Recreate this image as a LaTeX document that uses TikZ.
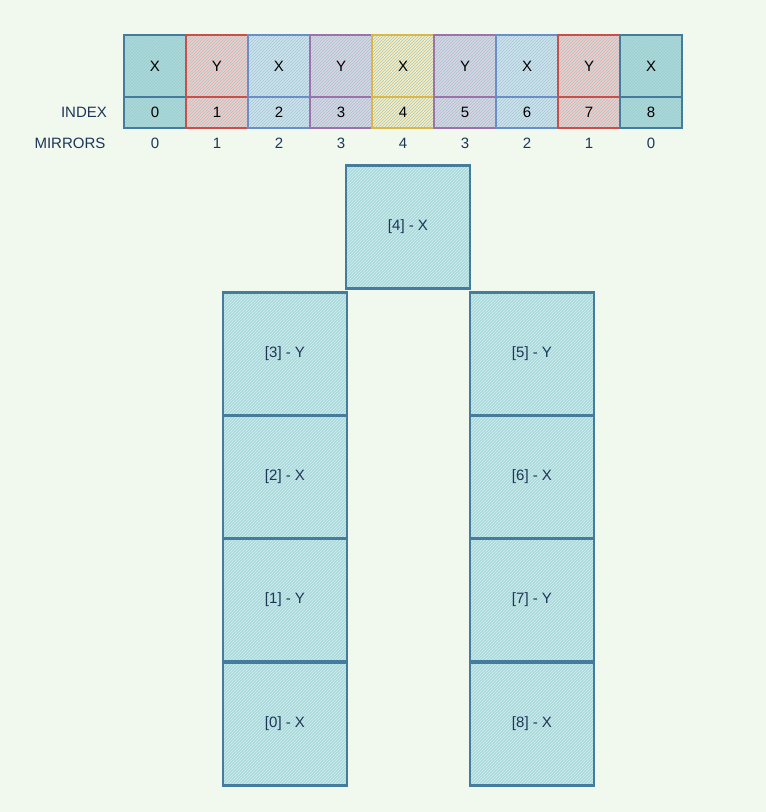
\documentclass[tikz,border=0pt]{standalone}
\usepackage{fontspec}
\setmainfont{Liberation Sans}
\usetikzlibrary{patterns}
\definecolor{bg}{HTML}{F1F9EF}
\definecolor{bl}{HTML}{457B9D}
\definecolor{cy}{HTML}{A8DADC}
\definecolor{rd}{HTML}{C9504A}
\definecolor{pk}{HTML}{F8C9C6}
\definecolor{lb}{HTML}{6A8FC8}
\definecolor{lbf}{HTML}{CFE3F2}
\definecolor{pu}{HTML}{9A72AC}
\definecolor{puf}{HTML}{DCD3E6}
\definecolor{ye}{HTML}{D9B84A}
\definecolor{yef}{HTML}{FBEDB8}
\definecolor{tx}{HTML}{1D3557}
\tikzset{
  cell/.style 2 args={draw=#1,line width=2.4pt,minimum width=62pt,inner sep=0pt,font=\fontsize{15}{17}\selectfont,
    preaction={fill=#2},preaction={pattern=north east lines,pattern color=cy!80!gray}},
  big/.style={draw=bl,line width=2.4pt,minimum width=124pt,minimum height=123pt,inner sep=0pt,
    text=tx,font=\fontsize{15}{17}\selectfont,preaction={fill=cy},preaction={pattern=north east lines,pattern color=white!55!cy}},
  lab/.style={text=tx,font=\fontsize{15}{17}\selectfont}
}
\begin{document}
\begin{tikzpicture}[x=1pt,y=-1pt]
\fill[bg] (0,0) rectangle (766,812);
\useasboundingbox (0,0) rectangle (766,812);
\foreach \i/\v/\d/\f/\m in {0/X/bl/cy/0,1/Y/rd/pk/1,2/X/lb/lbf/2,3/Y/pu/puf/3,4/X/ye/yef/4,5/Y/pu/puf/3,6/X/lb/lbf/2,7/Y/rd/pk/1,8/X/bl/cy/0}{
  \node[cell={\d}{\f},minimum height=62pt] (v\i) at ({155+62*\i},66) {\v};
  \node[cell={\d}{\f},minimum height=31pt] (x\i) at ({155+62*\i},112.5) {\i};
  \node[lab] (m\i) at ({155+62*\i},143) {\m};
}
\node[lab] (il) at (84,112) {INDEX};
\node[lab] (ml) at (70,143) {MIRRORS};
\node[big] (c4) at (408,227) {[4] - X};
\node[big] (c3) at (285,354) {[3] - Y};
\node[big] (c2) at (285,477) {[2] - X};
\node[big] (c1) at (285,600) {[1] - Y};
\node[big] (c0) at (285,724) {[0] - X};
\node[big] (c5) at (532,354) {[5] - Y};
\node[big] (c6) at (532,477) {[6] - X};
\node[big] (c7) at (532,600) {[7] - Y};
\node[big] (c8) at (532,724) {[8] - X};
\end{tikzpicture}
\end{document}
